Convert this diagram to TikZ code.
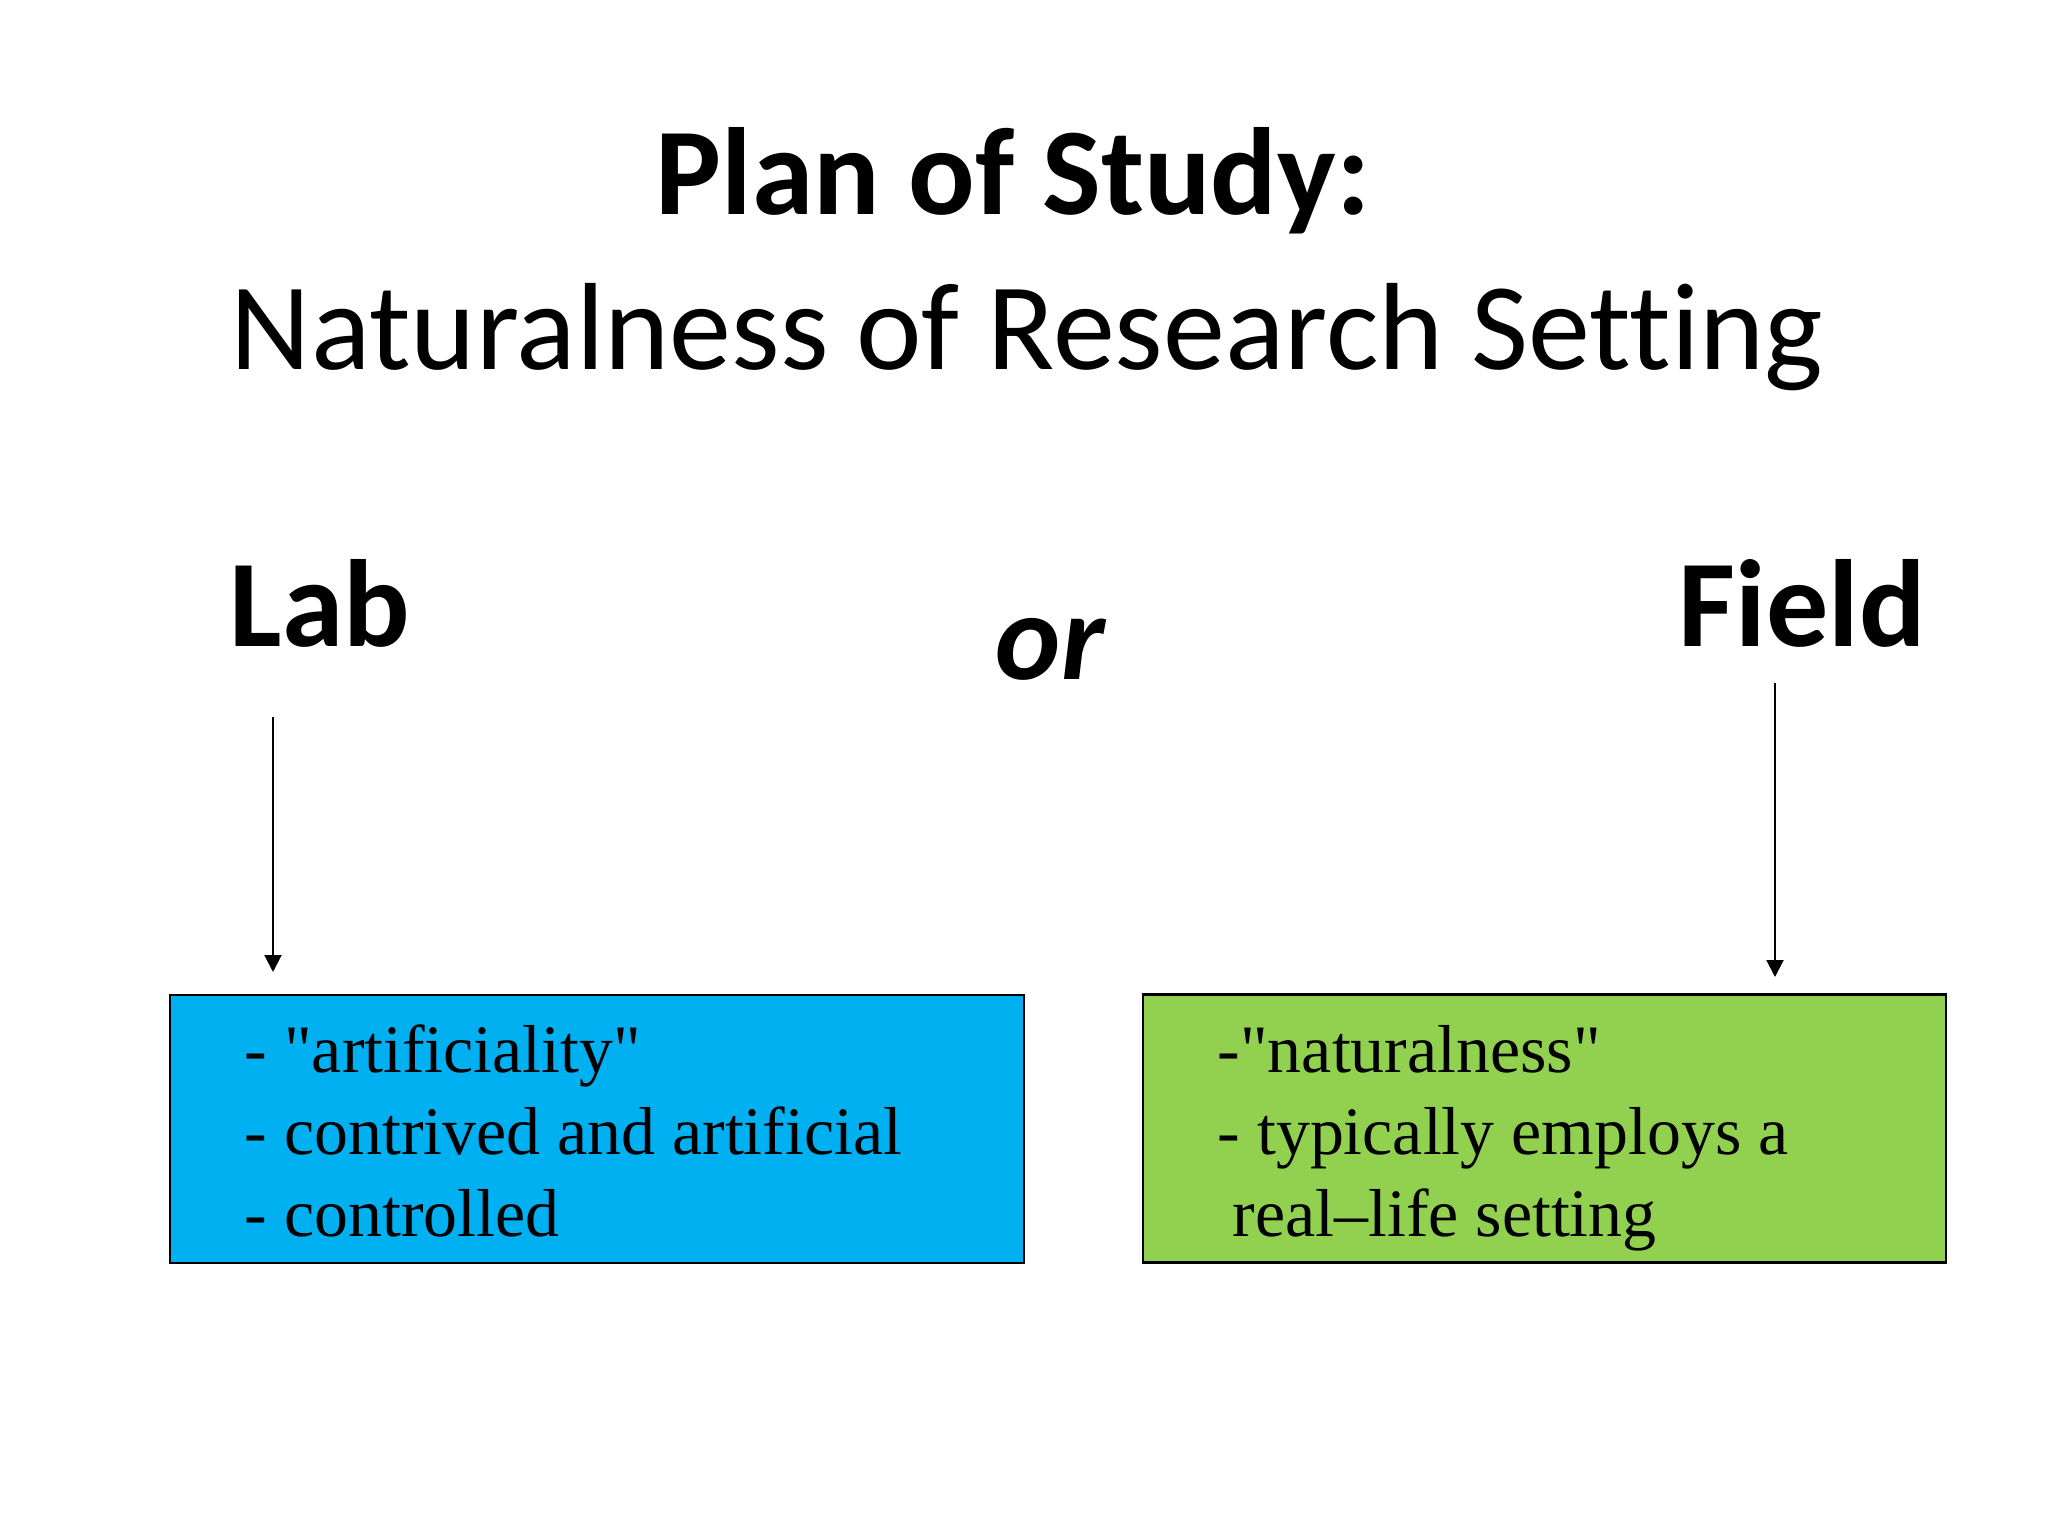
\documentclass[tikz,border=0pt]{standalone}
\usepackage{fontspec}
\setmainfont{Liberation Serif}
\newfontfamily\slidefont[Ligatures=NoCommon]{Carlito}
\usetikzlibrary{arrows.meta}

\definecolor{labblue}{HTML}{00B0F0}
\definecolor{fieldgreen}{HTML}{92D050}

\tikzset{
    heading/.style={inner sep=0pt, font=\slidefont\fontsize{35.3}{42}\selectfont},
    panel/.style={draw=black, line width=0.6pt, minimum width=8.54cm, minimum height=2.68cm, inner sep=0pt},
    paneltext/.style={inner sep=0pt, anchor=base west, font=\fontsize{19.3}{23.3}\selectfont},
    pointer/.style={line width=0.6pt, -{Triangle[length=0.17cm, width=0.17cm]}}
}

\begin{document}
\begin{tikzpicture}
        \useasboundingbox (0, 0) rectangle (20.48, -15.36);
        \fill[white] (0, 0) rectangle (20.48, -15.36);

        \node (title) at (10.13, -2.15) [heading, anchor=base] {\bfseries Plan of Study:};
        \node (subtitle) at (10.27, -3.70) [heading, anchor=base] {Naturalness of Research Setting};

        \node (lab) at (2.29, -6.46) [heading, anchor=base west] {\bfseries Lab};
        \node (or) at (9.95, -6.79) [heading, anchor=base west] {\bfseries\itshape or};
        \node (field) at (16.78, -6.46) [heading, anchor=base west] {\bfseries Field};

        \node (labbox) at (5.97, -11.29) [panel, fill=labblue] {};
        \node (fieldbox) at (15.445, -11.285) [panel, fill=fieldgreen, minimum width=8.03cm] {};

        \node (lab1) at (2.44, -10.72) [paneltext] {- \textquotedbl artificiality\textquotedbl};
        \node (lab2) at (2.44, -11.54) [paneltext] {- contrived and artificial};
        \node (lab3) at (2.44, -12.36) [paneltext] {- controlled};

        \node (field1) at (12.17, -10.72) [paneltext] {-\textquotedbl naturalness\textquotedbl};
        \node (field2) at (12.17, -11.54) [paneltext] {- typically employs a};
        \node (field3) at (12.32, -12.36) [paneltext] {real--life setting};

        \coordinate (labtail) at (2.73, -7.17);
        \coordinate (labtip) at (2.73, -9.72);
        \coordinate (fieldtail) at (17.75, -6.83);
        \coordinate (fieldtip) at (17.75, -9.77);

        \draw[pointer] (labtail) -- (labtip);
        \draw[pointer] (fieldtail) -- (fieldtip);
    \end{tikzpicture}
\end{document}
